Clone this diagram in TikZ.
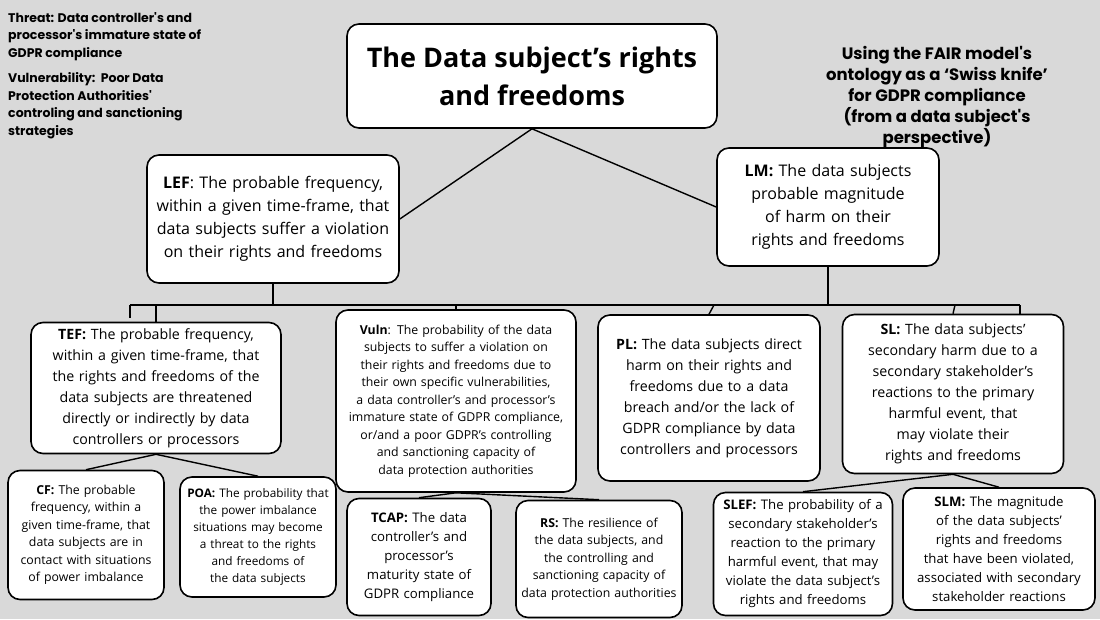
\documentclass[tikz,border=0pt]{standalone}
\usepackage{fontspec}
\setmainfont{Open Sans}
\newfontfamily\disp{Poppins}
\hyphenpenalty=10000 \exhyphenpenalty=10000
\begin{document}
\begin{tikzpicture}[x=1pt,y=-1pt,
  bx/.style={draw=black,line width=1.6pt,fill=white,rounded corners=12pt,align=center,inner sep=2pt},
  ln/.style={line width=1.4pt},
  big/.style={bx,font=\fontsize{16}{23}\selectfont},
  mid/.style={bx,font=\fontsize{14.2}{21}\selectfont},
  sb/.style={bx,font=\fontsize{13.2}{19}\selectfont},
  sm/.style={bx,font=\fontsize{12.3}{17.5}\selectfont}]
\fill[fill={rgb,255:red,217;green,217;blue,217}] (0,0) rectangle (1100,619);
\useasboundingbox (0,0) rectangle (1100,619);
\node[anchor=north west,align=left,font=\disp\bfseries\fontsize{12.5}{17.5}\selectfont,inner sep=0] (thr) at (8,12) {Threat: Data controller's and\\processor's immature state of\\GDPR compliance\\[8pt]Vulnerability:\ \ Poor Data\\Protection Authorities'\\controling and sanctioning\\strategies};
\node[align=center,font=\disp\bfseries\fontsize{16.5}{21}\selectfont,inner sep=0] (ttl) at (937,97) {Using the FAIR model's\\ontology as a ‘Swiss knife’\\for GDPR compliance\\(from a data subject's\\perspective)};
\node[bx,minimum width=370,minimum height=104,font=\bfseries\fontsize{27}{38}\selectfont] (top) at (532,76) {The Data subject's rights\\and freedoms};
\node[big,minimum width=252,minimum height=128,text width=240] (lef) at (273,219) {\textbf{LEF}: The probable frequency, within a given time-frame, that data subjects suffer a violation on their rights and freedoms};
\node[big,minimum width=222,minimum height=118,text width=210] (lm) at (828,207) {\textbf{LM:} The data subjects probable magnitude of harm on their rights and freedoms};
\draw[ln] (top.south) -- (lef.east);
\draw[ln] (top.south) -- (lm.west);
\coordinate (bl) at (130,305); \coordinate (br) at (1020,305);
\coordinate (blt) at (130,318); \coordinate (brt) at (1020,318);
\draw[line width=2.2pt] (bl) -- (br);
\draw[ln] (bl) -- (blt); \draw[ln] (br) -- (brt);
\node[mid,minimum width=250,minimum height=131,text width=240] (tef) at (156,388) {\textbf{TEF:} The probable frequency, within a given time-frame, that the rights and freedoms of the data subjects are threatened directly or indirectly by data controllers or processors};
\node[sm,minimum width=240,minimum height=182,text width=230] (vul) at (456,401) {\textbf{Vuln}: The probability of the data subjects to suffer a violation on their rights and freedoms due to their own specific vulnerabilities, a data controller's and processor's immature state of GDPR compliance, or/and a poor GDPR's controlling and sanctioning capacity of data protection authorities};
\node[mid,minimum width=222,minimum height=166,text width=210] (pl) at (709,398) {\textbf{PL:} The data subjects direct harm on their rights and freedoms due to a data breach and/or the lack of GDPR compliance by data controllers and processors};
\node[mid,minimum width=221,minimum height=159,text width=210] (sl) at (953,394) {\textbf{SL:} The data subjects' secondary harm due to a secondary stakeholder's reactions to the primary harmful event, that may violate their rights and freedoms};
\foreach \a/\x in {lef/273,lm/828,tef/156,vul/456,pl/714,sl/955}{\coordinate (c\a) at (\x,305);}
\draw[ln] (lef.south) -- (clef); \draw[ln] (lm.south) -- (clm);
\draw[ln] (ctef) -- (tef.north); \draw[ln] (cvul) -- (vul.north);
\draw[ln] (cpl) -- (pl.north); \draw[ln] (csl) -- (sl.north);
\node[sm,minimum width=156,minimum height=129,text width=148] (cf) at (86,535) {\textbf{CF:} The probable frequency, within a given time-frame, that data subjects are in contact with situations of power imbalance};
\node[sm,font=\fontsize{11.8}{17}\selectfont,minimum width=156,minimum height=120,text width=150] (poa) at (258,537) {\textbf{POA:} The probability that the power imbalance situations may become a threat to the rights and freedoms of the data subjects};
\node[sb,minimum width=144,minimum height=117,text width=140] (tcap) at (419,557) {\textbf{TCAP:} The data controller's and processor's maturity state of GDPR compliance};
\node[sm,minimum width=166,minimum height=117,text width=158] (rs) at (599,559) {\textbf{RS:} The resilience of the data subjects, and the controlling and sanctioning capacity of data protection authorities};
\node[sb,minimum width=177,minimum height=123,text width=175] (slef) at (803,554) {\textbf{SLEF:} The probability of a secondary stakeholder's reaction to the primary harmful event, that may violate the data subject's rights and freedoms};
\node[sb,minimum width=192,minimum height=122,text width=188] (slm) at (999,549) {\textbf{SLM:} The magnitude of the data subjects' rights and freedoms that have been violated, associated with secondary stakeholder reactions};
\draw[ln] (tef.south) -- (cf.north); \draw[ln] (tef.south) -- (poa.north);
\draw[ln] (vul.south) -- (tcap.north); \draw[ln] (vul.south) -- (rs.north);
\draw[ln] (sl.south) -- (slef.north); \draw[ln] (sl.south) -- (slm.north);
\end{tikzpicture}
\end{document}
